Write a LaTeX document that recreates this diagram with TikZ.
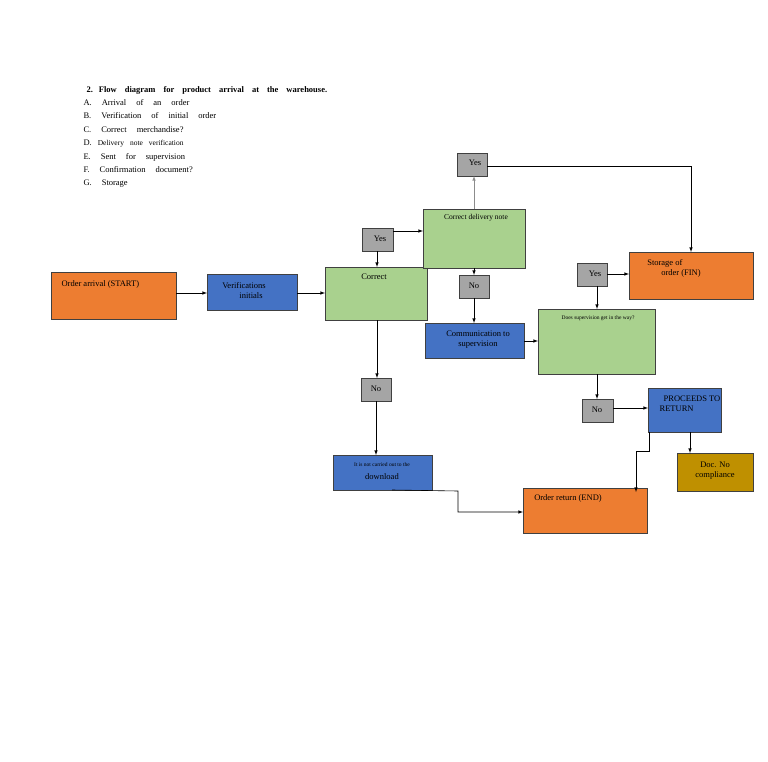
\documentclass[tikz,border=0pt]{standalone}
\usepackage{fontspec}
\setmainfont{Liberation Serif}
\begin{document}
\begin{tikzpicture}[x=1pt,y=-1pt,
 box/.style={draw=black!75,line width=0.6pt,inner sep=0pt},
 org/.style={box,fill={rgb,255:red,237;green,125;blue,49}},
 blu/.style={box,fill={rgb,255:red,68;green,114;blue,196}},
 grn/.style={box,fill={rgb,255:red,169;green,209;blue,142}},
 gry/.style={box,fill={rgb,255:red,165;green,165;blue,165}},
 yel/.style={box,fill={rgb,255:red,191;green,144;blue,0}},
 t/.style={font=\fontsize{8.5}{10}\selectfont,align=center},
 arr/.style={-latex,line width=0.6pt}]
\useasboundingbox[fill=white] (0,0) rectangle (768,762);
\node[anchor=west,font=\fontsize{8.5}{10}\selectfont\bfseries] (title) at (83,90) {2.\hspace{6pt}Flow\hspace{8pt}diagram\hspace{8pt}for\hspace{8pt}product\hspace{8pt}arrival\hspace{8pt}at\hspace{8pt}the\hspace{8pt}warehouse.};
\node[anchor=north west,font=\fontsize{8.5}{13.4}\selectfont,align=left] (list) at (80,96) {A.\hspace{10pt}Arrival\hspace{10pt}of\hspace{10pt}an\hspace{10pt}order\\B.\hspace{10pt}Verification\hspace{10pt}of\hspace{10pt}initial\hspace{10pt}order\\C.\hspace{10pt}Correct\hspace{10pt}merchandise?\\D.\hspace{6pt}{\fontsize{7.5}{9}\selectfont Delivery\hspace{6pt}note\hspace{6pt}verification}\\E.\hspace{10pt}Sent\hspace{10pt}for\hspace{10pt}supervision\\F.\hspace{10pt}Confirmation\hspace{10pt}document?\\G.\hspace{10pt}Storage};
% boxes
\path[org] (51,272) rectangle (176,319); \node[anchor=north west,t] (start) at (58,277) {Order arrival (START)};
\coordinate (startE) at (176,293);
\path[blu] (207,274) rectangle (297,310); \node[t] (ver) at (244,291) {Verifications\\\hspace{14pt}initials};
\path[grn] (325,267) rectangle (427,320); \node[t] (cor) at (374,277) {Correct};
\path[gry] (362,228) rectangle (393,251); \node[t] (yes1) at (380,239) {Yes};
\path[grn] (423,209) rectangle (525,268); \node[t,font=\fontsize{7.5}{9}\selectfont] (cdn) at (476,218) {Correct delivery note};
\path[gry] (457,153) rectangle (487,176); \node[t] (yes2) at (475,163) {Yes};
\path[gry] (459,275) rectangle (489,298); \node[t] (no1) at (474,286) {No};
\path[blu] (425,323) rectangle (524,358); \node[t] (com) at (478,340) {Communication to\\supervision};
\path[grn] (538,309) rectangle (655,374); \node[t,font=\fontsize{5.5}{7}\selectfont] (sup) at (598,318) {Does supervision get in the way?};
\path[gry] (577,263) rectangle (607,286); \node[t] (yes3) at (595,274) {Yes};
\path[org] (629,252) rectangle (753,299); \node[t,align=left] (fin) at (674,268) {Storage of\\\hspace{14pt}order (FIN)};
\path[gry] (582,399) rectangle (613,422); \node[t] (no2) at (597,410) {No};
\path[blu] (648,388) rectangle (721,432); \node[t,align=left] (proc) at (690,404) {\hspace{4pt}PROCEEDS TO\\RETURN};
\path[yel] (677,453) rectangle (753,491); \node[t] (doc) at (715,471) {Doc. No\\compliance};
\path[gry] (361,378) rectangle (391,401); \node[t] (no3) at (376,389) {No};
\path[blu] (333,455) rectangle (432,490); \node[t] (dl) at (382,471) {{\fontsize{5.5}{7}\selectfont It is not carried out to the}\\[3pt]download};
\path[org] (523,488) rectangle (647,533); \node[t] (ret) at (568,498) {Order return (END)};
% connectors
\draw[arr] (176,293) -- (207,293);
\draw[arr] (297,293) -- (325,293);
\draw[arr] (377,320) -- (377,378);
\draw[arr] (376,401) -- (376,455);
\draw[arr] (392,490) -- (458,491) -- (458,512) -- (523,512);
\draw[arr] (377,251) -- (377,267);
\draw[arr] (393,231) -- (423,231);
\draw[arr,black!45] (474,209) -- (474,176);
\draw[arr] (487,166) -- (691,166) -- (691,252);
\draw[arr] (474,268) -- (474,275);
\draw[arr] (474,298) -- (474,323);
\draw[arr] (524,341) -- (538,341);
\draw[arr] (597,286) -- (597,309);
\draw[arr] (607,274) -- (629,274);
\draw[arr] (597,374) -- (597,399);
\draw[arr] (613,408) -- (648,408);
\draw[arr] (690,432) -- (690,453);
\draw[arr] (649,432) -- (649,451) -- (636,451) -- (636,492);
\end{tikzpicture}
\end{document}
